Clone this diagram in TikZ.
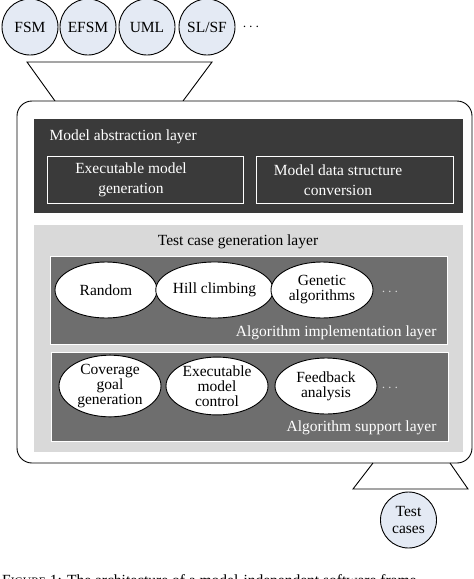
\documentclass[tikz,border=0pt]{standalone}
\usepackage{fontspec}
\setmainfont{Liberation Serif}
\usetikzlibrary{shapes.geometric}
\definecolor{cfill}{RGB}{228,234,244}
\definecolor{darkl}{RGB}{58,58,58}
\definecolor{lightl}{RGB}{217,217,217}
\definecolor{midl}{RGB}{110,110,110}
\tikzset{
  txt/.style={font=\fontsize{15.5}{20}\selectfont},
  incircle/.style={circle, draw=black, line width=0.9pt, fill=cfill, minimum size=56pt, inner sep=0pt, txt, align=center},
  oval/.style={ellipse, draw=black, line width=0.9pt, fill=white, minimum width=102pt, minimum height=56pt, inner sep=0pt, align=center, font=\fontsize{15.5}{15}\selectfont},
  wbox/.style={draw=white, line width=0.9pt},
  dots/.style={txt},
  outline/.style={draw=black, line width=0.9pt},
}
\begin{document}
\begin{tikzpicture}[x=1pt,y=-1pt]
\useasboundingbox (0,0) rectangle (474,579);
% input models
\node[incircle] (fsm) at (30,27) {FSM};
\node[incircle] (efsm) at (88,27) {EFSM};
\node[incircle] (uml) at (147,27) {UML};
\node[incircle] (slsf) at (207,27) {SL/SF};
\node[dots] (d0) at (251,27) {$\cdots$};
% input funnel
\draw[outline] (55,101) -- (27,62) -- (212,62) -- (183,101);
% monitor frame
\draw[outline, rounded corners=15pt, fill=white] (17,101) rectangle (472,463);
% model abstraction layer
\fill[darkl] (34,119) rectangle (463,213);
\node[txt, text=white, anchor=west] (mal) at (46,137) {Model abstraction layer};
\draw[wbox] (47,156) rectangle (243,203);
\node[txt, text=white, align=center] (emg) at (131,180) {Executable model\\generation};
\draw[wbox] (256,156) rectangle (453,203);
\node[txt, text=white, align=center] (mdsc) at (338,180) {Model data structure\\conversion};
% test case generation layer
\fill[lightl] (34,225) rectangle (463,452);
\node[txt] (tcgl) at (238,242) {Test case generation layer};
% algorithm implementation layer
\draw[wbox, fill=midl] (50,256) rectangle (447,344);
\node[oval] (rand) at (106,290) {Random};
\node[oval] (hill) at (214.5,290) {Hill climbing};
\node[oval] (gen) at (322,290) {Genetic\\algorithms};
\node[dots, text=white!85!black] (d1) at (390,292) {$\cdots$};
\node[txt, text=white, anchor=east] (ail) at (440,333) {Algorithm implementation layer};
% algorithm support layer
\draw[wbox, fill=midl] (51,352) rectangle (448,441);
\node[oval] (cov) at (110,386) {Coverage\\goal\\generation};
\node[oval] (exe) at (217,386) {Executable\\model\\control};
\node[oval] (fb) at (326,386) {Feedback\\analysis};
\node[dots, text=white!85!black] (d2) at (390,388) {$\cdots$};
\node[txt, text=white, anchor=east] (asl) at (440,428) {Algorithm support layer};
% output funnel
\draw[outline] (373,463) -- (353,489) -- (468,489) -- (450,463);
\node[incircle, font=\fontsize{15.5}{17}\selectfont] (tc) at (408.5,520) {Test\\cases};
% caption (cut off at the lower edge, as in the reference)
\node[anchor=base west, inner sep=0pt, font=\fontsize{15.5}{17}\selectfont] (cap) at (2,585) {F{\fontsize{11.5}{12}\selectfont IGURE} 1: The architecture of a model-independent software frame};
\end{tikzpicture}
\end{document}
